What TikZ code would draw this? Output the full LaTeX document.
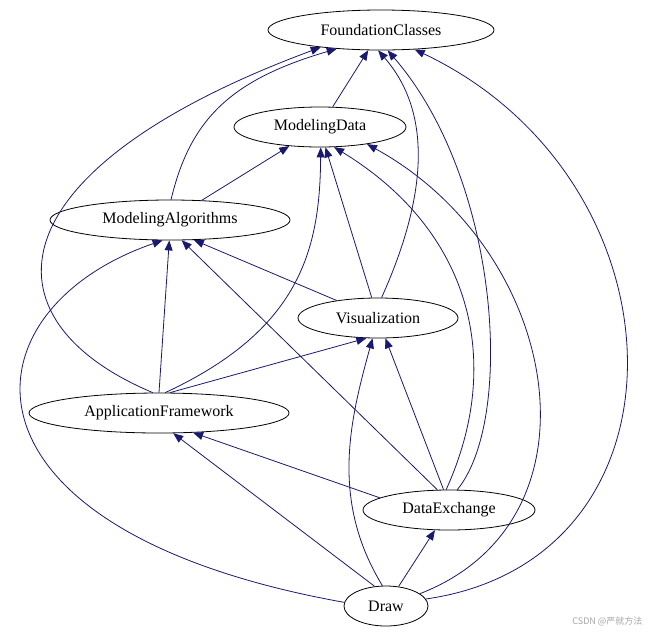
\documentclass[tikz,border=0pt]{standalone}
\usepackage{fontspec}
\setmainfont{Liberation Serif}
\newfontfamily\cjk{Noto Sans CJK SC}
\usetikzlibrary{arrows.meta,shapes.geometric}
\definecolor{edgec}{HTML}{191970}
\begin{document}
\begin{tikzpicture}[x=1pt,y=-1pt,
  nd/.style={ellipse,draw,thick,inner sep=0pt,font=\fontsize{16}{18}\selectfont},
  ed/.style={draw=edgec,thick,-{Triangle[width=8pt,length=10pt]},fill=none},
  ar/.style={ed}]
\useasboundingbox (0,0) rectangle (652,635);
\node[nd,minimum width=226pt,minimum height=40pt] (fc) at (381,30) {FoundationClasses};
\node[nd,minimum width=172pt,minimum height=40pt] (md) at (320,127) {ModelingData};
\node[nd,minimum width=240pt,minimum height=40pt] (ma) at (170,220) {ModelingAlgorithms};
\node[nd,minimum width=160pt,minimum height=40pt] (vi) at (378,318) {Visualization};
\node[nd,minimum width=260pt,minimum height=40pt] (af) at (159,413) {ApplicationFramework};
\node[nd,minimum width=172pt,minimum height=40pt] (de) at (449,510) {DataExchange};
\node[nd,minimum width=84pt,minimum height=40pt] (dr) at (386,606) {Draw};
\node[font=\cjk\fontsize{9}{10}\selectfont,text=gray!70,anchor=east] (wm) at (646,621) {CSDN @严就方法};

\draw[ar] (md) -- (fc);
\draw[ar] (ma.87) .. controls (190,120) and (230,80) .. (fc.203);
\draw[ar] (ma) -- (md);
\draw[ar] (vi.80) .. controls (430,190) and (430,110) .. (fc.262);
\draw[ar] (vi) -- (md.285);
\draw[ar] (vi) -- (ma.320);
\draw[ar] (af.107) .. controls (-20,320) and (-10,170) .. (fc.196);
\draw[ar] (af.73) .. controls (300,330) and (320,250) .. (md.272);
\draw[ar] (af.90) -- (ma.268);
\draw[ar] (af.62) -- (vi.240);
\draw[ar] (de.68) .. controls (515,420) and (500,180) .. (fc.288);
\draw[ar] (de.98) .. controls (505,360) and (470,230) .. (md.305);
\draw[ar] (de.120) -- (ma.300);
\draw[ar] (de.105) -- (vi.290);
\draw[ar] (de.170) -- (af.330);
\draw[ar] (dr.10) .. controls (700,560) and (690,180) .. (fc.330);
\draw[ar] (dr.20) .. controls (610,520) and (560,250) .. (md.340);
\draw[ar] (dr.175) .. controls (-60,530) and (-40,310) .. (ma.250);
\draw[ar] (dr.120) -- (af.305);
\draw[ar] (dr.100) .. controls (330,500) and (350,420) .. (vi.255);
\draw[ar] (dr) -- (de.235);
\end{tikzpicture}
\end{document}
